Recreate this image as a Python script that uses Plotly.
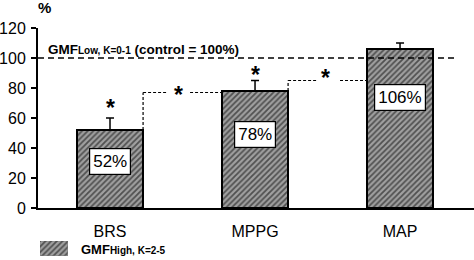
import plotly.graph_objects as go

categories = ["BRS", "MPPG", "MAP"]
values = [52, 78, 106]
err_up = [8, 7, 4]
pct_labels = ["52%", "78%", "106%"]
label_y = [31, 49, 74]
y_ticks = [0, 20, 40, 60, 80, 100, 120]
control_level = 100

FONT = "Liberation Sans, Arial, sans-serif"
pattern = dict(shape="/", fgcolor="#000000", bgcolor="#a0a0a0", size=4, solidity=0.45)

fig = go.Figure()
fig.add_trace(go.Bar(
    x=[0, 1, 2], y=values, width=0.455,
    marker=dict(color="#a0a0a0", pattern=pattern, line=dict(color="black", width=2)),
    error_y=dict(type="data", symmetric=False, array=err_up, arrayminus=[0, 0, 0],
                 color="black", thickness=1.5, width=4),
    showlegend=False, xaxis="x", yaxis="y",
))
fig.add_trace(go.Bar(
    x=[0], y=[1], width=1,
    marker=dict(color="#a0a0a0", pattern=pattern, line=dict(color="#444", width=0.5)),
    showlegend=False, xaxis="x2", yaxis="y2",
))

W, H = 474, 260
L, T = 38, 28
plot_h = H - T
y_dom0 = (H - 208) / plot_h

fig.update_layout(
    width=W, height=H, showlegend=False,
    margin=dict(l=L, r=0, t=T, b=0, autoexpand=False),
    paper_bgcolor="white", plot_bgcolor="white",
    font=dict(family=FONT, size=16, color="black"),
    xaxis=dict(range=[-0.4966, 2.510], tickvals=[0, 1, 2], ticktext=categories,
               showline=True, linecolor="black", linewidth=2, ticks="", showgrid=False,
               zeroline=False, ticklabelstandoff=8, anchor="y", domain=[0, 1], automargin=False),
    yaxis=dict(range=[0, 120], tickvals=y_ticks, showline=True, linecolor="black",
               linewidth=2, ticks="outside", ticklen=5, tickwidth=2, tickcolor="black",
               showgrid=False, zeroline=False, domain=[y_dom0, 1], anchor="x",
               ticklabelstandoff=2, automargin=False),
    xaxis2=dict(domain=[(40 - L) / 436, (68 - L) / 436], range=[-0.5, 0.5], visible=False,
                anchor="y2", automargin=False),
    yaxis2=dict(domain=[(H - 256) / plot_h, (H - 241) / plot_h], range=[0, 1], visible=False,
                anchor="x2", automargin=False),
    bargap=0,
)

fig.add_shape(type="line", xref="paper", yref="y", x0=0, x1=(455 - 38) / 436,
              y0=control_level, y1=control_level, line=dict(color="black", width=1.5, dash="6px,4px"))

dot = dict(color="black", width=1.2, dash="3px,2px")
fig.add_shape(type="line", x0=0.228, x1=0.228, y0=52, y1=77, line=dot)
fig.add_shape(type="line", x0=0.228, x1=0.393, y0=77, y1=77, line=dot)
fig.add_shape(type="line", x0=0.552, x1=0.772, y0=77, y1=77, line=dot)
fig.add_shape(type="line", x0=1.228, x1=1.228, y0=78, y1=85, line=dot)
fig.add_shape(type="line", x0=1.228, x1=1.428, y0=85, y1=85, line=dot)
fig.add_shape(type="line", x0=1.586, x1=1.772, y0=85, y1=85, line=dot)

for i, (t, ly) in enumerate(zip(pct_labels, label_y)):
    fig.add_annotation(x=i, y=ly, text=t, showarrow=False, font=dict(size=17, family=FONT),
                       bgcolor="white", bordercolor="black", borderwidth=1.2, borderpad=3)

stars = [(0, 66.7), (1, 88.5), (0.469, 75.5), (1.483, 86.5)]
for sx, sy in stars:
    fig.add_annotation(x=sx, y=sy, text="<b>*</b>", showarrow=False, yanchor="middle",
                       font=dict(size=23, family=FONT))

fig.add_annotation(xref="paper", yref="y", x=(46 - L) / 436, y=106, xanchor="left", yanchor="middle",
                   showarrow=False,
                   text="<b>GMF<span style='font-size:10px'>Low, K=0-1</span> (control = 100%)</b>",
                   font=dict(size=13.5, family=FONT))
fig.add_annotation(xref="paper", yref="paper", x=(36 - L) / 436, y=1, xanchor="left", yanchor="bottom",
                   yshift=10, showarrow=False, text="<b>%</b>", font=dict(size=15, family=FONT))
fig.add_annotation(xref="paper", yref="paper", x=(79 - L) / 436, y=(H - 249) / plot_h,
                   xanchor="left", yanchor="middle", showarrow=False,
                   text="<b>GMF<span style='font-size:10px'>High, K=2-5</span></b>",
                   font=dict(size=13, family=FONT))

fig.write_html("out.html")
